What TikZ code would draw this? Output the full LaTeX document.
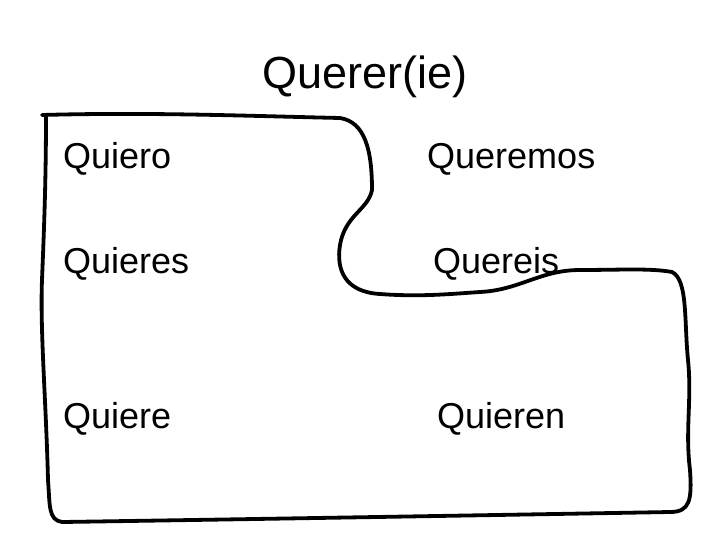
\documentclass[tikz,border=0pt]{standalone}
\usepackage{fontspec}
\setmainfont{Liberation Sans}
\begin{document}
\begin{tikzpicture}[x=1pt,y=-1pt,
  lbl/.style={anchor=base west,inner sep=0pt,font=\fontsize{36}{40}\selectfont},
  boot/.style={line width=3.8pt,line join=round,line cap=round}]
\useasboundingbox (0,0) rectangle (728,546);
\node[anchor=base,inner sep=0pt,font=\fontsize{45}{50}\selectfont] (t) at (365,88) {Querer(ie)};
\node[lbl] (a) at (63,168) {Quiero};
\node[lbl] (b) at (63,273) {Quieres};
\node[lbl] (c) at (63,428) {Quiere};
\node[lbl] (d) at (427,168) {Queremos};
\node[lbl] (e) at (433,273) {Quereis};
\node[lbl] (f) at (437,428) {Quieren};
\draw[boot] (42,115) .. controls (150,112) and (250,116) .. (340,118)
  .. controls (365,122) and (372,150) .. (372,190)
  .. controls (368,210) and (345,215) .. (340,245)
  .. controls (336,270) and (345,292) .. (380,294)
  .. controls (420,297) and (450,294) .. (480,292)
  .. controls (520,290) and (540,270) .. (580,270)
  .. controls (620,270) and (650,268) .. (672,272)
  .. controls (688,280) and (684,320) .. (688,360)
  .. controls (692,400) and (685,430) .. (690,470)
  .. controls (692,500) and (690,512) .. (670,512)
  .. controls (500,515) and (200,520) .. (62,522)
  .. controls (48,520) and (50,505) .. (48,480)
  .. controls (46,400) and (40,330) .. (42,280)
  .. controls (44,230) and (46,180) .. (46,116);
\end{tikzpicture}
\end{document}
